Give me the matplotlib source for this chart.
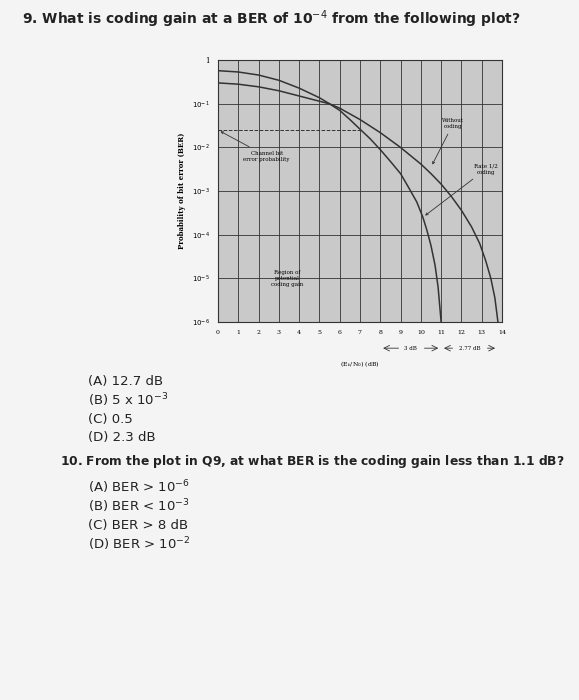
import matplotlib
matplotlib.use("Agg")
import matplotlib.pyplot as plt
import numpy as np

coded_x = [0, 1, 2, 3, 4, 5, 5.5, 6, 6.5, 7, 7.5, 8, 8.5, 9, 9.4, 9.8, 10.1, 10.3, 10.5, 10.7, 10.85, 11]
coded_logy = [-0.24, -0.27, -0.34, -0.46, -0.64, -0.86, -1.0, -1.15, -1.36, -1.58, -1.8, -2.05, -2.32, -2.6, -2.92, -3.25, -3.6, -3.9, -4.25, -4.7, -5.2, -6.0]
unc_x = [0, 1, 2, 3, 4, 5, 5.5, 6, 7, 8, 9, 10, 10.5, 11, 11.5, 12, 12.5, 12.9, 13.2, 13.45, 13.65, 13.8]
unc_logy = [-0.52, -0.55, -0.61, -0.7, -0.82, -0.94, -1.0, -1.1, -1.36, -1.66, -2.0, -2.38, -2.6, -2.84, -3.12, -3.44, -3.82, -4.2, -4.6, -5.0, -5.45, -6.0]
xticks = list(range(0, 15))
ytick_vals = [1, 1e-1, 1e-2, 1e-3, 1e-4, 1e-5, 1e-6]
ytick_labels = ["1", r"$10^{-1}$", r"$10^{-2}$", r"$10^{-3}$", r"$10^{-4}$", r"$10^{-5}$", r"$10^{-6}$"]

fig = plt.figure(figsize=(5.79, 7.0), dpi=100)
fig.patch.set_facecolor("#f4f4f4")

fig.text(0.038, 0.972, "9. What is coding gain at a BER of 10$^{-4}$ from the following plot?",
         fontsize=10, fontweight="semibold", va="center", color="#222222")

ax = fig.add_axes([0.3765, 0.54, 0.4905, 0.374])
ax.set_facecolor("#c9c9c9")
ax.set_yscale("log")
ax.set_ylim(1e-6, 1)
ax.set_xlim(0, 14)
ax.set_xticks(xticks)
ax.set_xticklabels([str(t) for t in xticks], fontsize=4.5, fontfamily="serif")
ax.set_yticks(ytick_vals)
ax.set_yticklabels(ytick_labels, fontsize=5, fontfamily="serif")
ax.minorticks_off()
ax.tick_params(length=0, pad=6)
ax.grid(True, color="#333333", lw=0.6)
ax.plot(coded_x, 10 ** np.array(coded_logy), color="#333333", lw=1.1)
ax.plot(unc_x, 10 ** np.array(unc_logy), color="#333333", lw=1.1)
ax.plot([0, 7], [10 ** -1.6, 10 ** -1.6], ls="--", color="#333333", lw=0.7)
for s in ax.spines.values():
    s.set_color("#333333")
ax.set_ylabel("Probability of bit error (BER)", fontsize=5, fontweight="bold", fontfamily="serif")
ax.text(7, 10 ** -7.0, "(E$_b$/N$_0$) (dB)", fontsize=4.5, ha="center", fontfamily="serif")
ax.annotate("Channel bit\nerror probability", xy=(0, 10 ** -1.6), xytext=(2.4, 10 ** -2.2),
            fontsize=4, ha="center", va="center", fontfamily="serif",
            arrowprops=dict(arrowstyle="->", lw=0.6, color="#333333"))
ax.annotate("Without\ncoding", xy=(10.5, 10 ** -2.45), xytext=(11.6, 10 ** -1.45),
            fontsize=4, ha="center", va="center", fontfamily="serif",
            arrowprops=dict(arrowstyle="->", lw=0.6, color="#333333"))
ax.annotate("Rate 1/2\ncoding", xy=(10.1, 10 ** -3.6), xytext=(13.2, 10 ** -2.5),
            fontsize=4, ha="center", va="center", fontfamily="serif",
            arrowprops=dict(arrowstyle="->", lw=0.6, color="#333333"))
ax.text(3.4, 10 ** -5.0, "Region of\npotential\ncoding gain", fontsize=4, ha="center", va="center", fontfamily="serif")
ya = 10 ** -6.6
ax.annotate("", xy=(8, ya), xytext=(11, ya), annotation_clip=False,
            arrowprops=dict(arrowstyle="<->", lw=0.6, color="#333333"))
ax.annotate("", xy=(11, ya), xytext=(13.8, ya), annotation_clip=False,
            arrowprops=dict(arrowstyle="<->", lw=0.6, color="#333333"))
ax.text(9.5, ya, "3 dB", fontsize=4, ha="center", va="center", backgroundcolor="#f4f4f4", fontfamily="serif")
ax.text(12.4, ya, "2.77 dB", fontsize=4, ha="center", va="center", backgroundcolor="#f4f4f4", fontfamily="serif")

opts1 = ["(A) 12.7 dB", "(B) 5 x 10$^{-3}$", "(C) 0.5", "(D) 2.3 dB"]
for i, t in enumerate(opts1):
    fig.text(0.152, 1 - (382 + i * 18.5) / 700, t, fontsize=9.5, va="center", color="#222222")
fig.text(0.104, 1 - 462 / 700, "10. From the plot in Q9, at what BER is the $\\bf{coding\\ gain}$ less than 1.1 dB?",
         fontsize=8.8, va="center", color="#222222", fontweight="semibold")
opts2 = ["(A) BER > 10$^{-6}$", "(B) BER < 10$^{-3}$", "(C) BER > 8 dB", "(D) BER > 10$^{-2}$"]
for i, t in enumerate(opts2):
    fig.text(0.152, 1 - (487 + i * 19) / 700, t, fontsize=9.5, va="center", color="#222222")

fig.savefig("out.png", dpi=100, facecolor=fig.get_facecolor())
